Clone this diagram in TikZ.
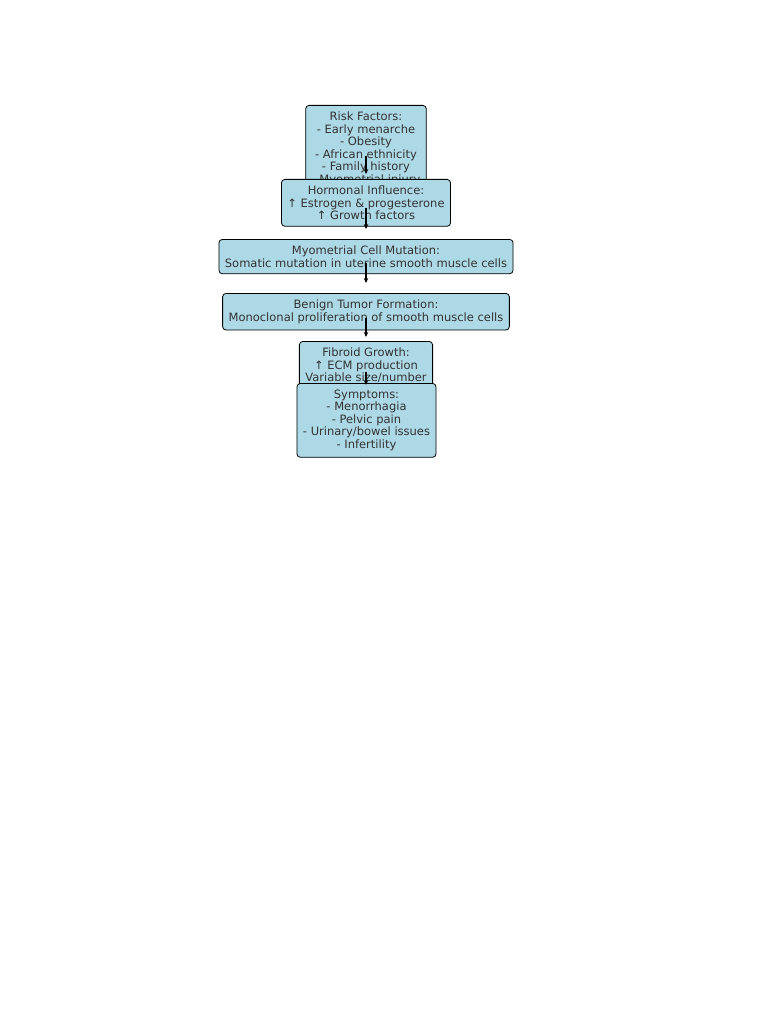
\documentclass[tikz,border=0pt]{standalone}
\usepackage{fontspec}
\setmainfont{DejaVu Sans}
\usetikzlibrary{arrows.meta}
\definecolor{boxfill}{HTML}{ADD8E6}
\definecolor{txt}{HTML}{333333}
\begin{document}
\begin{tikzpicture}[x=1pt,y=-1pt,
  flowbox/.style={draw=black, line width=0.8pt, fill=boxfill, rounded corners=3.5pt,
    align=center, inner xsep=6pt, inner ysep=6.5pt, anchor=north, text=txt,
    font=\fontsize{11.5pt}{12.5pt}\selectfont},
  arr/.style={draw=black, line width=1.4pt, -{Stealth[length=5pt,width=4.5pt]}}]
\useasboundingbox[fill=white] (0,0) rectangle (768,1024);
\node[flowbox] (risk) at (366,105) {Risk Factors:\\- Early menarche\\- Obesity\\- African ethnicity\\- Family history\\- Myometrial injury};
\node[flowbox] (horm) at (366,179) {Hormonal Influence:\\↑ Estrogen \& progesterone\\↑ Growth factors};
\node[flowbox] (myo) at (366,239) {Myometrial Cell Mutation:\\Somatic mutation in uterine smooth muscle cells};
\node[flowbox] (ben) at (366,293) {Benign Tumor Formation:\\Monoclonal proliferation of smooth muscle cells};
\node[flowbox] (fib) at (366,341) {Fibroid Growth:\\↑ ECM production\\Variable size/number};
\node[flowbox] (sym) at (366.5,383) {Symptoms:\\- Menorrhagia\\- Pelvic pain\\- Urinary/bowel issues\\- Infertility};
\coordinate (e1) at (366,174);
\coordinate (e2) at (366,229);
\coordinate (e3) at (366,283);
\coordinate (e4) at (366,337);
\coordinate (e5) at (366,385);
\draw[arr] ([yshift=-7pt]risk.center) -- (e1);
\draw[arr] ([yshift=-5pt]horm.center) -- (e2);
\draw[arr] ([yshift=-6pt]myo.center) -- (e3);
\draw[arr] ([yshift=-6pt]ben.center) -- (e4);
\draw[arr] ([yshift=-7pt]fib.center) -- (e5);
\end{tikzpicture}
\end{document}
